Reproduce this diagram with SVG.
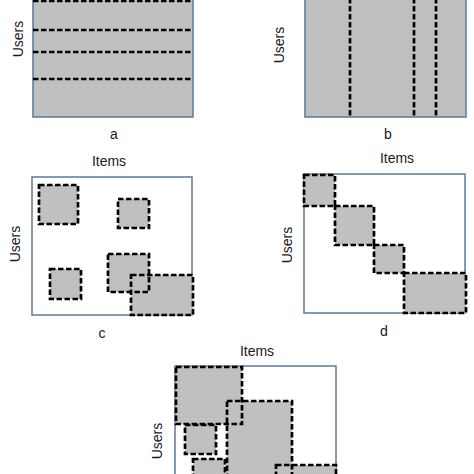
<svg xmlns="http://www.w3.org/2000/svg" width="474" height="474" viewBox="0 0 474 474">
<style>
.frame{fill:#ffffff;stroke:#5a7898;stroke-width:1.5}
.full{fill:#c0c0c0;stroke:#5a7898;stroke-width:1.5}
.blk{fill:#c0c0c0;stroke:none}
.dash{fill:none;stroke:#000;stroke-width:2.7;stroke-dasharray:5.5 2.5}
.lbl{font-family:"Liberation Sans",Arial,sans-serif;font-size:14px;fill:#1a1a1a;text-anchor:middle}
</style>
<rect width="474" height="474" fill="#fff"/>
<g id="panel-a">
<rect class="full" x="33" y="-10" width="160" height="127"/>
<g class="dash">
<line x1="33" y1="1" x2="193" y2="1"/>
<line x1="33" y1="30" x2="193" y2="30"/>
<line x1="33" y1="52" x2="193" y2="52"/>
<line x1="33" y1="79" x2="193" y2="79"/>
</g>
<text class="lbl" transform="translate(23,39) rotate(-90)">Users</text>
<text class="lbl" x="114" y="139">a</text>
</g>
<g id="panel-b">
<rect class="full" x="305" y="-10" width="161" height="127"/>
<g class="dash">
<line x1="350" y1="-2" x2="350" y2="117"/>
<line x1="414" y1="-2" x2="414" y2="117"/>
<line x1="436" y1="-2" x2="436" y2="117"/>
</g>
<text class="lbl" transform="translate(284,45) rotate(-90)">Users</text>
<text class="lbl" x="388" y="139">b</text>
</g>
<g id="panel-c">
<text class="lbl" x="109" y="166">Items</text>
<rect class="frame" x="32" y="177" width="160" height="138"/>
<g class="blk">
<rect x="39" y="185" width="39" height="39"/>
<rect x="118" y="199" width="31" height="29"/>
<rect x="50" y="269" width="31" height="30"/>
<rect x="108" y="254" width="41" height="38"/>
<rect x="131" y="275" width="62" height="40"/>
</g>
<g class="dash">
<rect x="39" y="185" width="39" height="39"/>
<rect x="118" y="199" width="31" height="29"/>
<rect x="50" y="269" width="31" height="30"/>
<rect x="108" y="254" width="41" height="38"/>
<rect x="131" y="275" width="62" height="40"/>
</g>
<text class="lbl" transform="translate(20,244) rotate(-90)">Users</text>
<text class="lbl" x="102" y="338">c</text>
</g>
<g id="panel-d">
<text class="lbl" x="397" y="163">Items</text>
<rect class="frame" x="304" y="174" width="161" height="139"/>
<g class="blk">
<rect x="304" y="175" width="31" height="31"/>
<rect x="335" y="206" width="39" height="39"/>
<rect x="374" y="245" width="30" height="28"/>
<rect x="404" y="273" width="62" height="40"/>
</g>
<g class="dash">
<rect x="304" y="175" width="31" height="31"/>
<rect x="335" y="206" width="39" height="39"/>
<rect x="374" y="245" width="30" height="28"/>
<rect x="404" y="273" width="62" height="40"/>
</g>
<text class="lbl" transform="translate(292,245) rotate(-90)">Users</text>
<text class="lbl" x="384" y="336">d</text>
</g>
<g id="panel-e">
<text class="lbl" x="257" y="356">Items</text>
<rect class="frame" x="175" y="366" width="161" height="130"/>
<g class="blk">
<rect x="176" y="367" width="66" height="57"/>
<rect x="227" y="401" width="65" height="90"/>
<rect x="185" y="425" width="31" height="29"/>
<rect x="193" y="459" width="32" height="30"/>
<rect x="276" y="465" width="60" height="30"/>
</g>
<g class="dash">
<rect x="176" y="367" width="66" height="57"/>
<rect x="227" y="401" width="65" height="90"/>
<rect x="185" y="425" width="31" height="29"/>
<rect x="193" y="459" width="32" height="30"/>
<rect x="276" y="465" width="60" height="30"/>
</g>
<text class="lbl" transform="translate(162,441) rotate(-90)">Users</text>
</g>
</svg>
